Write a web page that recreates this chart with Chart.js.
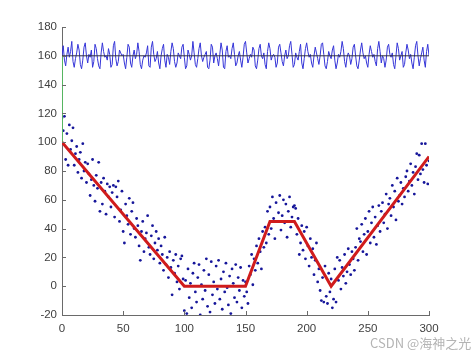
<!DOCTYPE html>
<html>
<head>
<meta charset="utf-8">
<script src="https://cdn.jsdelivr.net/npm/chart.js@4"></script>
<style>
  html, body { margin: 0; padding: 0; background: #fff; }
  #wrap { position: relative; width: 474px; height: 355px; }
  #wm { position: absolute; left: 370px; top: 333px; font: 13px "Noto Sans CJK SC", sans-serif; color: #b4b4b4; white-space: nowrap; }
</style>
</head>
<body>
<div id="wrap">
  <canvas id="c" width="474" height="355"></canvas>
  <div id="wm">CSDN @海神之光</div>
</div>
<script>
// ---- data ----
const xTicks = [0, 50, 100, 150, 200, 250, 300];
const yTicks = [-20, 0, 20, 40, 60, 80, 100, 120, 140, 160, 180];

// noisy observations, one per x = 0..300
const obsY = [
  117,108,118,88,106,84,112,95,101,110,84,92,97,79,88,93,75,99,80,86,
  72,85,78,63,74,88,70,59,77,68,86,52,72,57,75,66,50,71,62,69,
  55,65,70,48,69,62,73,45,53,66,38,30,57,49,43,61,36,52,58,40,
  34,47,42,28,18,38,45,24,33,37,49,27,22,35,42,19,30,38,25,33,
  16,28,22,11,34,15,20,6,24,13,-6,18,9,22,3,14,-2,19,21,5,
  -17,4,-19,12,-8,2,-15,9,16,-4,-11,6,15,-20,1,-9,11,-3,19,-14,
  8,-18,17,-6,3,-12,14,-2,18,-9,5,-16,10,-4,16,-1,-13,7,-19,12,
  2,-8,15,-11,6,-3,13,-15,4,-7,
  3,-4,-12,14,8,22,1,19,11,28,16,33,24,12,38,27,41,30,52,36,
  55,40,62,47,33,58,45,51,63,39,49,60,44,57,34,52,62,41,48,55,
  56,54,36,47,22,30,42,25,38,19,41,28,14,33,20,26,8,18,30,3,
  12,-3,-10,6,-11,14,-7,-12,9,-4,
  5,-15,-9,12,-11,20,4,18,-2,13,7,22,2,10,26,15,8,24,19,11,
  27,40,18,33,31,43,24,36,47,22,38,52,30,44,55,34,48,29,42,56,
  38,52,58,44,50,64,40,57,61,49,70,55,66,46,75,59,63,72,57,68,
  62,76,80,66,73,85,70,79,64,83,92,74,91,78,99,81,72,99,84,71,
  87
];

// noisy signal around 160, one per x = 0..300
const topY = [
  160,167,157,153,161,166,159,163,170,156,152,158,162,168,164,154,151,157,166,169,
  160,155,161,159,164,152,156,168,165,158,153,151,162,169,163,159,160,157,165,161,
  152,154,167,170,158,153,156,164,162,160,161,155,151,159,168,166,155,152,160,164,
  158,161,169,163,154,151,157,160,159,162,167,153,152,166,170,161,156,158,163,155,
  151,160,165,168,157,152,161,159,154,163,169,165,156,152,155,162,160,158,166,168,
  159,151,153,164,161,157,160,170,162,154,152,158,165,169,160,156,159,161,163,152,
  151,157,168,166,155,160,162,158,153,161,169,164,152,151,163,167,159,160,158,165,
  169,161,153,155,160,163,157,152,159,168,170,162,155,158,161,159,166,164,153,151,
  157,165,168,160,158,162,154,151,163,169,165,157,160,161,159,152,155,166,168,162,
  156,153,160,164,158,160,167,170,161,152,154,162,159,157,163,168,155,151,158,165,
  169,163,159,161,155,152,160,166,162,158,154,160,168,169,161,153,151,156,163,160,
  158,164,167,157,151,155,161,159,163,170,165,156,152,159,162,160,154,158,166,168,
  160,153,151,157,164,169,162,158,160,155,152,161,167,163,159,161,156,153,165,170,
  163,155,160,158,152,157,166,168,161,159,162,154,151,160,169,165,157,160,163,152,
  154,162,168,164,158,161,155,151,159,167,170,160,153,158,162,166,157,152,163,168,
  160
];

// reference level
const refX = [0, 300];
const refY = [160, 160];

// true signal (green)
const trueX = [0, 0, 100, 150, 170, 190, 220, 300];
const trueY = [160, 100, 0, 0, 45, 45, 0, 90];

// fitted piecewise line (red)
const fitX = [0, 100, 150, 170, 190, 220, 300];
const fitY = [100, 0, 0, 45, 45, 0, 90];

// ---- build ----
const pts = (xs, ys) => ys.map((y, i) => ({ x: xs[i], y }));
const idx = obsY.map((_, i) => i);

const inwardTicks = {
  id: 'inwardTicks',
  afterDraw(chart) {
    const { ctx, chartArea: a, scales } = chart;
    ctx.save();
    ctx.strokeStyle = '#6a6a6a';
    ctx.lineWidth = 1;
    ctx.beginPath();
    xTicks.forEach(v => {
      const px = Math.round(scales.x.getPixelForValue(v)) + 0.5;
      ctx.moveTo(px, a.bottom); ctx.lineTo(px, a.bottom - 4);
    });
    yTicks.forEach(v => {
      const py = Math.round(scales.y.getPixelForValue(v)) + 0.5;
      ctx.moveTo(a.left, py); ctx.lineTo(a.left + 4, py);
    });
    ctx.stroke();
    ctx.restore();
  }
};

new Chart(document.getElementById('c'), {
  type: 'scatter',
  data: {
    datasets: [
      { data: pts(fitX, fitY), showLine: true, borderColor: '#d01c1c', borderWidth: 3, pointRadius: 0, order: 0 },
      { data: pts(refX, refY), showLine: true, borderColor: '#303040', borderWidth: 1, pointRadius: 0, order: 1 },
      { data: pts(trueX, trueY), showLine: true, borderColor: '#55c060', borderWidth: 1, pointRadius: 0, order: 2 },
      { data: pts(idx, obsY), showLine: false, backgroundColor: '#16169a', borderWidth: 0, pointRadius: 1.4, order: 3 },
      { data: pts(idx, topY), showLine: true, borderColor: '#3535d8', borderWidth: 1, pointRadius: 0, order: 4 }
    ]
  },
  options: {
    responsive: false,
    animation: false,
    events: [],
    layout: { padding: { left: 0, right: 45, top: 27, bottom: 0 } },
    plugins: { legend: { display: false }, tooltip: { enabled: false } },
    scales: {
      x: {
        type: 'linear', min: 0, max: 300,
        afterFit(s) { s.height = 40; },
        afterBuildTicks(s) { s.ticks = xTicks.map(v => ({ value: v })); },
        grid: { display: false, tickLength: 0 },
        border: { display: true, color: '#6a6a6a', width: 1 },
        ticks: { padding: 7, color: '#404040', font: { family: 'Liberation Sans, Arial, sans-serif', size: 11.5 }, maxRotation: 0 }
      },
      y: {
        type: 'linear', min: -20, max: 180,
        afterFit(s) { s.width = 62; },
        afterBuildTicks(s) { s.ticks = yTicks.map(v => ({ value: v })); },
        grid: { display: false, tickLength: 0 },
        border: { display: true, color: '#6a6a6a', width: 1 },
        ticks: { padding: 5, color: '#404040', font: { family: 'Liberation Sans, Arial, sans-serif', size: 11.5 } }
      }
    }
  },
  plugins: [inwardTicks]
});
</script>
</body>
</html>
